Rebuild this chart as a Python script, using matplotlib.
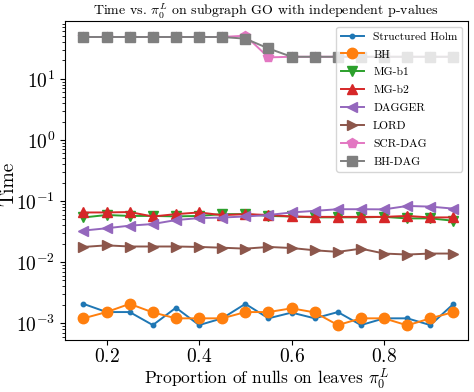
import matplotlib
matplotlib.use("Agg")
import matplotlib.pyplot as plt
import numpy as np

plt.rcParams.update({
    "font.family": "serif",
    "font.serif": ["cmr10", "DejaVu Serif"],
    "mathtext.fontset": "cm",
    "axes.formatter.use_mathtext": True,
    "axes.unicode_minus": False,
})

# proportion of nulls on leaves
pi0 = [0.15, 0.20, 0.25, 0.30, 0.35, 0.40, 0.45, 0.50, 0.55,
       0.60, 0.65, 0.70, 0.75, 0.80, 0.85, 0.90, 0.95]

structured_holm = [0.00207, 0.00152, 0.00152, 0.00093, 0.00179, 0.00093, 0.00120, 0.00207, 0.00120,
                   0.00149, 0.00120, 0.00152, 0.00093, 0.00120, 0.00120, 0.00093, 0.00207]
bh = [0.00120, 0.00152, 0.00207, 0.00150, 0.00120, 0.00120, 0.00120, 0.00152, 0.00152,
      0.00175, 0.00150, 0.00093, 0.00120, 0.00120, 0.00092, 0.00120, 0.00152]
mg_b1 = [0.0538, 0.059, 0.057, 0.057, 0.056, 0.057, 0.061, 0.061, 0.057,
         0.0558, 0.054, 0.054, 0.054, 0.055, 0.0519, 0.052, 0.0475]
mg_b2 = [0.0649, 0.065, 0.066, 0.0558, 0.061, 0.065, 0.0587, 0.061, 0.059,
         0.0558, 0.055, 0.055, 0.055, 0.055, 0.057, 0.0538, 0.054]
dagger = [0.0328, 0.0358, 0.0395, 0.042, 0.0488, 0.0525, 0.0537, 0.0558, 0.059,
          0.065, 0.069, 0.0734, 0.0734, 0.073, 0.083, 0.081, 0.075]
lord = [0.0177, 0.0188, 0.018, 0.018, 0.018, 0.0177, 0.0172, 0.0166, 0.0177,
        0.017, 0.0156, 0.0147, 0.0166, 0.0138, 0.0133, 0.0138, 0.0138]
scr_dag = [48.5, 48.5, 48.5, 48.5, 48.5, 48.5, 48.5, 51.0, 22.5,
           23.0, 23.0, 23.0, 23.0, 23.0, 23.0, 23.0, 23.0]
bh_dag = [48.5, 48.5, 48.5, 48.5, 48.5, 48.5, 48.5, 45.5, 31.5,
          23.0, 23.0, 23.0, 23.0, 23.0, 23.0, 23.0, 23.0]

SERIES = [
    ("Structured Holm", structured_holm, "o", 3.2),
    ("BH", bh, "o", 7.5),
    ("MG-b1", mg_b1, "v", 7),
    ("MG-b2", mg_b2, "^", 7),
    ("DAGGER", dagger, "<", 7.5),
    ("LORD", lord, ">", 7.5),
    ("SCR-DAG", scr_dag, "p", 7),
    ("BH-DAG", bh_dag, "s", 7),
]

fig = plt.figure(figsize=(4.74, 3.92), dpi=100)
ax = fig.add_axes([0.137, 0.133, 0.85, 0.813])

for label, vals, marker, ms in SERIES:
    ax.plot(pi0, vals, marker=marker, markersize=ms, linewidth=1.4, label=label)

ax.set_yscale("log")
ax.set_xlim(0.11, 0.981)
ax.set_xticks([0.2, 0.4, 0.6, 0.8])
ax.tick_params(axis="both", labelsize=14)
ax.tick_params(axis="x", pad=2.5)
ax.set_title(r"Time vs. $\pi_0^L$ on subgraph GO with independent p-values",
             fontsize=10, pad=3)
ax.set_xlabel(r"Proportion of nulls on leaves $\pi_0^L$", fontsize=12.5, labelpad=0)
ax.set_ylabel("Time", fontsize=14)
ax.yaxis.set_label_coords(-0.118, 0.49)
ax.legend(loc="upper right", fontsize=8.3, labelspacing=0.68)

fig.savefig("out.png", dpi=100)
